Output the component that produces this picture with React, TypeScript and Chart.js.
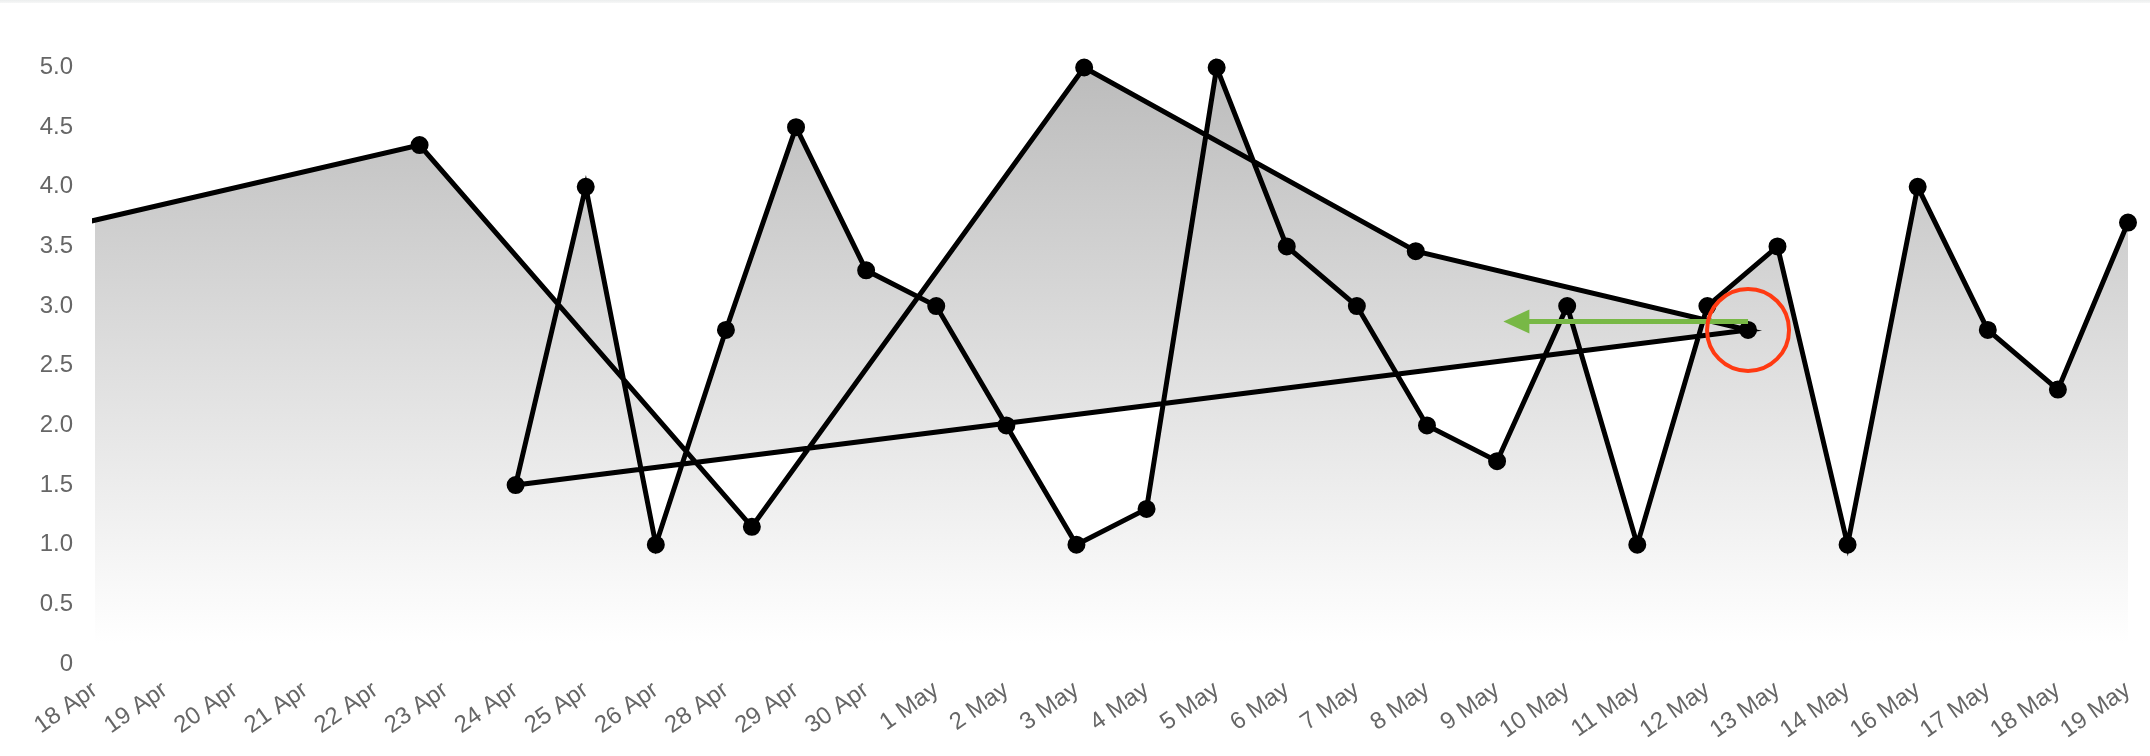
import React, { useEffect, useRef } from 'react';
import { Chart, registerables } from 'chart.js';

Chart.register(...registerables);

// Category tick labels (one per x index 0..29)
const tickLabels = [
  '18 Apr', '19 Apr', '20 Apr', '21 Apr', '22 Apr', '23 Apr', '24 Apr', '25 Apr', '26 Apr', '28 Apr',
  '29 Apr', '30 Apr', '1 May', '2 May', '3 May', '4 May', '5 May', '6 May', '7 May', '8 May',
  '9 May', '10 May', '11 May', '12 May', '13 May', '14 May', '16 May', '17 May', '18 May', '19 May',
];

// Series: x position (in tick-index units) and value, in drawing order
const pointX = [
  -0.15, 4.63, 9.37, 14.11, 18.84, 23.58,
  6, 7, 8, 9, 10, 11, 12, 13, 14, 15, 16, 17, 18, 19, 20, 21, 22, 23, 24, 25, 26, 27, 28, 29,
];
const pointY = [
  3.7, 4.35, 1.15, 5.0, 3.46, 2.8,
  1.5, 4.0, 1.0, 2.8, 4.5, 3.3, 3.0, 2.0, 1.0, 1.3, 5.0, 3.5, 3.0, 2.0, 1.7, 3.0, 1.0, 3.0, 3.5, 1.0, 4.0, 2.8, 2.3, 3.7,
];

// Annotation: highlighted point and leftward arrow
const highlightIndex = 5;
const arrowStartX = 23.58;
const arrowEndX = 20.09;
const arrowY = 2.87;

const Y_MIN = 0;
const Y_MAX = 5;
const Y_STEP = 0.5;

const FONT = "'Liberation Sans', Arial, Helvetica, sans-serif";

export default function App() {
  const ref = useRef<HTMLCanvasElement>(null);

  useEffect(() => {
    const canvas = ref.current;
    if (!canvas) return;

    const marks = {
      id: 'marks',
      afterDatasetsDraw(chart: any) {
        const { ctx, scales } = chart;
        const xs = scales.x;
        const ys = scales.y;
        const meta = chart.getDatasetMeta(0);
        const pt = meta.data[highlightIndex];
        ctx.save();
        // green arrow
        const x0 = xs.getPixelForValue(arrowStartX);
        const x1 = xs.getPixelForValue(arrowEndX);
        const ay = ys.getPixelForValue(arrowY);
        const headLen = 26;
        const headHalf = 12;
        ctx.strokeStyle = 'rgb(120,184,70)';
        ctx.fillStyle = 'rgb(120,184,70)';
        ctx.lineWidth = 5;
        ctx.beginPath();
        ctx.moveTo(x0, ay);
        ctx.lineTo(x1 + headLen - 2, ay);
        ctx.stroke();
        ctx.beginPath();
        ctx.moveTo(x1, ay);
        ctx.lineTo(x1 + headLen, ay - headHalf);
        ctx.lineTo(x1 + headLen, ay + headHalf);
        ctx.closePath();
        ctx.fill();
        // red circle
        if (pt) {
          ctx.strokeStyle = 'rgb(255,58,18)';
          ctx.lineWidth = 4;
          ctx.beginPath();
          ctx.arc(pt.x, pt.y, 41, 0, Math.PI * 2);
          ctx.stroke();
        }
        ctx.restore();
      },
    };

    const chart = new Chart(canvas, {
      type: 'line',
      data: {
        datasets: [
          {
            data: pointX.map((x, i) => ({ x, y: pointY[i] })),
            borderColor: '#000',
            borderWidth: 5,
            tension: 0,
            pointRadius: 8,
            pointBorderWidth: 2,
            pointBackgroundColor: '#000',
            pointBorderColor: '#000',
            fill: 'origin',
            clip: { left: 3, right: 10, top: 12, bottom: 3 } as any,
            backgroundColor: (c: any) => {
              const area = c.chart.chartArea;
              if (!area) return 'rgba(200,200,200,1)';
              const g = c.chart.ctx.createLinearGradient(0, area.top, 0, area.bottom);
              g.addColorStop(0, 'rgb(188,188,188)');
              g.addColorStop(0.965, 'rgb(255,255,255)');
              g.addColorStop(1, 'rgb(255,255,255)');
              return g;
            },
          },
        ],
      },
      options: {
        responsive: false,
        animation: false,
        devicePixelRatio: 1,
        layout: { padding: { top: 67.5, right: 22, left: 0, bottom: 0 } },
        font: { family: FONT, size: 24 } as any,
        plugins: {
          legend: { display: false },
          tooltip: { enabled: false },
        },
        scales: {
          x: {
            type: 'linear',
            min: 0,
            max: tickLabels.length - 1,
            grid: { display: false, drawTicks: false },
            border: { display: false },
            afterFit: (s: any) => {
              s.height = 92;
              s.paddingLeft = 0;
              s.paddingRight = 0;
            },
            ticks: {
              stepSize: 1,
              autoSkip: false,
              minRotation: 35,
              maxRotation: 35,
              padding: 12,
              color: '#666',
              font: { family: FONT, size: 24 },
              callback: (v: any) => tickLabels[Math.round(Number(v))] ?? '',
            },
          },
          y: {
            min: Y_MIN,
            max: Y_MAX,
            grid: { display: false, drawTicks: false },
            border: { display: false },
            afterFit: (s: any) => { s.width = 95; },
            ticks: {
              stepSize: Y_STEP,
              padding: 22,
              color: '#666',
              font: { family: FONT, size: 24 },
            },
          },
        },
      },
      plugins: [marks],
    });

    return () => chart.destroy();
  }, []);

  return (
    <div style={{ position: 'absolute', left: 0, top: 0, width: 2150, height: 756, background: '#fff' }}>
      <canvas ref={ref} width={2150} height={756} style={{ position: 'absolute', left: 0, top: 0, display: 'block' }} />
      <div style={{ position: 'absolute', left: 0, top: 0, width: '100%', height: 3, background: 'linear-gradient(#eceeee, #f6f7f7)' }} />
    </div>
  );
}
